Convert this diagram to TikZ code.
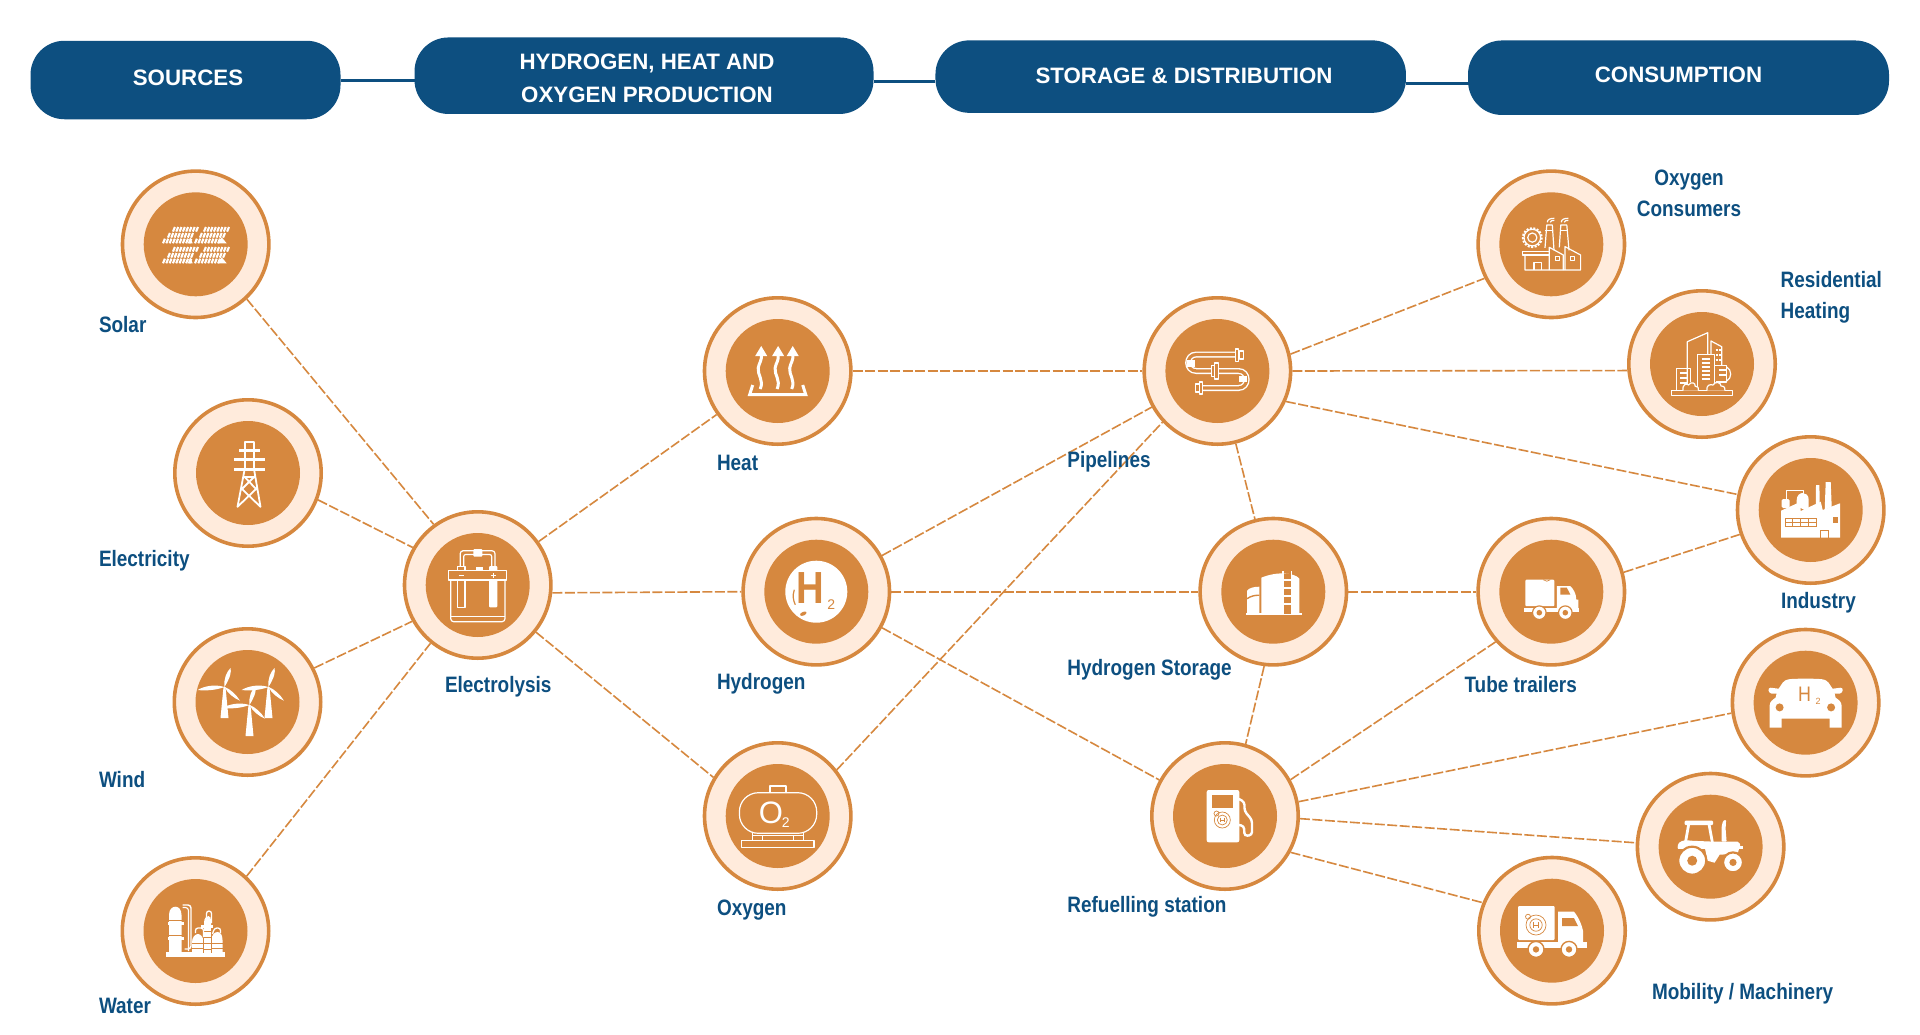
\documentclass[tikz,border=0pt]{standalone}
\usepackage{fontspec}
\setmainfont{Liberation Sans}
\newfontfamily\condfont[FakeStretch=0.85]{Liberation Sans}
\newfontfamily\pillfont[FakeStretch=1.0]{Liberation Sans}
\definecolor{hubor}{HTML}{D6883F}
\definecolor{hubring}{HTML}{FFEBDC}
\definecolor{navyc}{HTML}{0D4F80}
\tikzset{
  ringnode/.style={circle,draw=hubor,fill=hubring,line width=3.6pt,minimum size=146.4pt,inner sep=0pt,outer sep=1.8pt},
  corenode/.style={circle,fill=hubor,minimum size=104pt,inner sep=0pt,outer sep=0pt},
  pillbox/.style={fill=navyc,rounded corners=34pt,inner sep=0pt,outer sep=0pt},
  pilltext/.style={text=white,font=\pillfont\bfseries\fontsize{22.3}{33}\selectfont,align=center,inner sep=0pt,outer sep=0pt},
  pilllink/.style={draw=navyc,line width=3pt},
  linkline/.style={draw=hubor,line width=1.6pt,dash pattern=on 10pt off 2.5pt},
  lbl/.style={text=navyc,font=\condfont\bfseries\fontsize{22.3}{31.5}\selectfont,inner sep=0pt,outer sep=0pt},
  wf/.style={fill=white,draw=none},
  of/.style={fill=hubor,draw=none},
  wl/.style={draw=white,line width=1.2pt,fill=none,line join=round},
  wlt/.style={draw=white,line width=3pt,fill=none,line cap=round,line join=round},
  ol/.style={draw=hubor,line width=1.1pt,fill=none},
  icontext/.style={inner sep=0pt,outer sep=0pt,font=\fontsize{#1}{#1}\selectfont},
}
\newcommand{\hubnode}[2]{\node[ringnode] (#1) at (#2) {};\node[corenode] (#1core) at (#2) {};}
\newcommand{\turbicon}[2]{\begin{scope}[shift={(#1,#2)}]
 \fill[wf] (-1,0)--(1,0)--(4,31)--(-4,31)--cycle;
 \fill[wf] (0,0) .. controls (6,-10) and (7,-15) .. (6,-19) .. controls (2,-15) and (-1,-8) .. (0,0);
 \fill[wf] (0,0) .. controls (-10,-3) and (-20,-1) .. (-27,3) .. controls (-18,4) and (-8,3) .. (0,0);
 \fill[wf] (0,0) .. controls (6,2) and (12,8) .. (15.5,13.7) .. controls (9,11) and (3,6) .. (0,0);
 \end{scope}}
\newcommand{\hcircle}[3]{\draw[ol,line width=0.7pt] (#1,#2) circle[radius=#3];\draw[ol,line width=0.7pt] (#1,#2) circle[radius=#3*0.62];
 \draw[ol,line width=0.8pt] (#1-#3*0.25,#2-#3*0.3)--(#1-#3*0.25,#2+#3*0.3) (#1+#3*0.25,#2-#3*0.3)--(#1+#3*0.25,#2+#3*0.3) (#1-#3*0.25,#2)--(#1+#3*0.25,#2);}
\begin{document}
\begin{tikzpicture}[x=1pt,y=-1pt]
\useasboundingbox (0,0) rectangle (1920,1034);
\fill[white] (0,0) rectangle (1920,1034);
% header pills
\node[pillbox,minimum width=310pt,minimum height=78.5pt] (psrc) at (185.5,80) {};
\node[pillbox,minimum width=459pt,minimum height=76.5pt] (pprod) at (644,75.7) {};
\node[pillbox,minimum width=470.5pt,minimum height=72.5pt] (pstore) at (1170.7,76.6) {};
\node[pillbox,minimum width=421pt,minimum height=74.5pt] (pcons) at (1678.5,77.7) {};
\node[pilltext] (tsrc) at (188,77.7) {SOURCES};
\node[pilltext] (tprod) at (647,78.5) {HYDROGEN, HEAT AND\\OXYGEN PRODUCTION};
\node[pilltext] (tstore) at (1184,75.4) {STORAGE \& DISTRIBUTION};
\node[pilltext] (tcons) at (1678.5,75.2) {CONSUMPTION};
\draw[pilllink] (psrc.east |- 0,80.3) -- (pprod.west |- 0,80.3);
\draw[pilllink] (pprod.east |- 0,81.7) -- (pstore.west |- 0,81.7);
\draw[pilllink] (pstore.east |- 0,83) -- (pcons.west |- 0,83);
% hubs
\hubnode{solar}{195.7,244.3}
\hubnode{elec}{248,473}
\hubnode{wind}{247.5,702}
\hubnode{water}{195.5,931}
\hubnode{lysis}{477.7,585}
\hubnode{heat}{777.7,371}
\hubnode{hyd}{816.3,591.7}
\hubnode{oxy}{777.7,816}
\hubnode{pipe}{1217.4,371}
\hubnode{stor}{1273.3,591.7}
\hubnode{fuel}{1225,816}
\hubnode{tube}{1551.3,591.7}
\hubnode{ocons}{1551.3,244.3}
\hubnode{resi}{1702,364}
\hubnode{indu}{1810.7,510}
\hubnode{car}{1805.6,702.7}
\hubnode{trac}{1710.6,846.7}
\hubnode{truck}{1552,930.7}
% connectors
\draw[linkline] (solar.-47.5) -- (lysis.126.6);
\draw[linkline] (elec.-21) -- (lysis.150.7);
\draw[linkline] (wind.27.7) -- (lysis.209);
\draw[linkline] (water.47.7) -- (lysis.231);
\draw[linkline] (lysis) -- (heat);
\draw[linkline] (lysis.-6) -- (hyd.west);
\draw[linkline] (lysis.-39) -- (oxy.149);
\draw[linkline] (heat) -- (pipe);
\draw[linkline] (hyd) -- (pipe);
\draw[linkline] (oxy.38.4) -- (pipe.223.7);
\draw[linkline] (hyd) -- (stor);
\draw[linkline] (hyd) -- (fuel);
\draw[linkline] (pipe) -- (stor);
\draw[linkline] (stor.-97.5) -- (fuel.74.8);
\draw[linkline] (stor) -- (tube);
\draw[linkline] (pipe.13.9) -- (ocons.207.3);
\draw[linkline] (pipe.east) -- (resi.185.4);
\draw[linkline] (pipe.-24) -- (indu.168);
\draw[linkline] (tube.15.2) -- (indu.199.5);
\draw[linkline] (fuel.29.5) -- (tube.222);
\draw[linkline] (fuel.11.3) -- (car.188.6);
\draw[linkline] (fuel.-2.3) -- (trac.177.2);
\draw[linkline] (fuel.-29.7) -- (truck.158.7);
% labels
\node[lbl,anchor=base west] (lsolar) at (99,332.5) {Solar};
\node[lbl,anchor=base west] (lelec) at (99,566) {Electricity};
\node[lbl,anchor=base west] (lwind) at (99,787) {Wind};
\node[lbl,anchor=base west] (lwater) at (99,1013.7) {Water};
\node[lbl,anchor=base west] (llysis) at (445,692.7) {Electrolysis};
\node[lbl,anchor=base west] (lheat) at (717,470) {Heat};
\node[lbl,anchor=base west] (lhyd) at (717,689) {Hydrogen};
\node[lbl,anchor=base west] (loxy) at (717,915) {Oxygen};
\node[lbl,anchor=base west] (lpipe) at (1067.4,467) {Pipelines};
\node[lbl,anchor=base west] (lstor) at (1067.4,675) {Hydrogen Storage};
\node[lbl,anchor=base west] (lfuel) at (1067.4,912.7) {Refuelling station};
\node[lbl,anchor=base west] (ltube) at (1464.5,692) {Tube trailers};
\node[lbl,align=center,anchor=center] (locons) at (1689,193.3) {Oxygen\\Consumers};
\node[lbl,align=left,anchor=west] (lresi) at (1780.7,297.5) {Residential\\Heating};
\node[lbl,anchor=base west] (lindu) at (1781,608.6) {Industry};
\node[lbl,anchor=base west] (lmob) at (1652,999) {Mobility / Machinery};
% ---------- icons ----------
% solar
\begin{scope}[shift={(solar.center)}]
 \foreach \yy in {0,20}{
  \foreach \xa/\ya/\nn in {-26/-15/8,-31/-9/8,-36/-3.3/9,5/-15/8,1/-9/8,-4/-3.3/8}{
   \foreach \k in {1,...,\nn}{
    \draw[white,line width=2.1pt] ({\xa+\k*3.3},{\ya+\yy+2.3}) -- ({\xa+\k*3.3+1.9},{\ya+\yy-2.3});
   }
  }
  \fill[wf] (-8,{\yy-1}) -- (-3,{\yy-1}) -- (-5.5,{\yy-7}) -- cycle;
  \fill[wf] (22,{\yy-1}) -- (31,{\yy-1}) -- (26,{\yy-7}) -- cycle;
 }
\end{scope}
% electricity
\begin{scope}[shift={(elec.center)}]
 \draw[wl,line width=1.8pt] (-3.3,-31) rectangle (6,-4);
 \draw[white,line width=2.6pt] (-9,-22.7)--(12,-22.7) (-14,-13.6)--(17,-13.6) (-14,-3.8)--(17,-3.8);
 \draw[wl,line width=1.8pt] (-3.3,-4) -- (-10.5,33.8) -- (8,16) -- (-3.3,4) -- (6,4) -- (-6,16) -- (12.5,33.8) -- (6,-4);
\end{scope}
% wind
\begin{scope}[shift={(wind.center)}]
 \turbicon{-23}{-15}
 \turbicon{21}{-15}
 \turbicon{2}{3}
\end{scope}
% water plant
\begin{scope}[shift={(water.center)}]
 \fill[wf] (-29.5,21.3) rectangle (29.5,26.3);
 \fill[wf] (-26.5,22) -- (-26.5,-16) .. controls (-26.5,-22) and (-23,-24.3) .. (-20.2,-24.3) .. controls (-17,-24.3) and (-14,-22) .. (-14,-16) -- (-14,22) -- cycle;
 \fill[wf] (-28,-9.5) rectangle (-12,-6);
 \fill[wf] (-28,5.5) rectangle (-12,9);
 \fill[of] (-28,-11) rectangle (-12,-9.8);
 \fill[of] (-28,3.8) rectangle (-12,5);
 \draw[white,line width=1.4pt,rounded corners=3pt] (-13,-26) -- (-4.5,-26) -- (-4.5,18) -- (-11,18);
 \draw[white,line width=1.1pt,rounded corners=3pt] (-13,-23.5) -- (-7,-23.5) -- (-7,20);
 \fill[wf] (-3.5,22) -- (-3.5,11) .. controls (-3.5,6) and (0,3) .. (2.5,3) .. controls (5,3) and (8,6) .. (8,11) -- (8,22) -- cycle;
 \fill[wf] (16,22) -- (16,9) .. controls (16,4) and (19,1) .. (22,1) .. controls (25,1) and (27,4) .. (27,9) -- (27,22) -- cycle;
 \fill[wf] (8.5,22) -- (8.5,-8) .. controls (8.5,-13) and (11,-15) .. (13,-15) .. controls (15,-15) and (15.5,-13) .. (15.5,-8) -- (15.5,22) -- cycle;
 \fill[wf] (5,-6) rectangle (17,-3);
 \foreach \yy in {12,17}{\draw[ol,line width=0.8pt] (-3.5,\yy) -- (8,\yy) (16,\yy) -- (27,\yy);}
 \foreach \yy in {0,6,12,18}{\draw[ol,line width=0.8pt] (8.5,\yy) -- (15.5,\yy);}
 \draw[hubor,line width=0.9pt] (8,0) -- (8,22) (16,-3) -- (16,22);
 \draw[white,line width=1.3pt,rounded corners=2.5pt] (8,6) -- (8,-3) -- (0,-3) -- (0,2);
 \draw[white,line width=1.3pt,rounded corners=2.5pt] (25,2) -- (25,-3) -- (19,-3) -- (17,3);
 \draw[white,line width=1.3pt,rounded corners=2.5pt] (11,-13) -- (11,-20) -- (16,-20) -- (16,-8);
\end{scope}
% electrolysis battery
\begin{scope}[shift={(lysis.center)}]
 \draw[wl] (-29.3,-14.3) rectangle (29,-5);
 \draw[wl,rounded corners=3pt] (-27,-5) -- (-27,36.7) -- (27.3,36.7) -- (27.3,-5);
 \draw[wl] (-27,31.7) -- (27.3,31.7);
 \draw[wl] (-20,-5) rectangle (-12.7,22.3);
 \fill[wf,rounded corners=1pt] (11.3,-5) rectangle (19.7,22.3);
 \fill[wf,rounded corners=1pt] (11.3,-19) rectangle (19.7,-14.3);
 \draw[wl] (-20,-18.5) rectangle (-12.7,-14.3);
 \fill[wf] (-1.7,-18.5) rectangle (5,-14.3);
 \draw[wl,rounded corners=3pt] (-17.5,-18.5) -- (-17.5,-34.3) -- (17.3,-34.3) -- (17.3,-19);
 \draw[wl,rounded corners=2pt] (-14,-18.5) -- (-14,-30.5) -- (14,-30.5) -- (14,-19);
 \fill[wf,rounded corners=1pt] (-4.3,-36) rectangle (4.7,-28.3);
 \draw[white,line width=1pt] (-19,-9.5)--(-14,-9.5) (13,-9.5)--(18,-9.5) (15.5,-12)--(15.5,-7);
\end{scope}
% heat
\begin{scope}[shift={(heat.center)}]
 \foreach \xx in {-16.5,0.4,15}{
  \draw[wlt,line cap=butt] (\xx-1,18) .. controls (\xx+3,9) and (\xx-4,4) .. (\xx-3,-3) .. controls (\xx-2,-9) and (\xx+1,-10) .. (\xx,-17);
  \fill[wf] (\xx-6,-15) -- (\xx,-25) -- (\xx+6,-15) -- cycle;
 }
 \draw[wlt,line cap=butt,line join=miter] (-25,14) -- (-28,23.5) -- (28,23.5) -- (25,14);
\end{scope}
% hydrogen
\begin{scope}[shift={(hyd.center)}]
 \fill[wf] (0,0) circle[radius=31];
 \node[icontext=45,text=hubor,font=\condfont\bfseries\fontsize{45}{45}\selectfont] (hydH) at (-5.6,-3.3) {H};
 \node[icontext=14,text=hubor] (hydtwo) at (15,13.3) {2};
 \draw[hubor,line width=1.2pt] (-22,-2) .. controls (-24,4) and (-23,9) .. (-21,13);
 \fill[of,rotate around={25:(-13,22)}] (-13,22) ellipse[x radius=3.5,y radius=1.8];
\end{scope}
% oxygen tank
\begin{scope}[shift={(oxy.center)}]
 \draw[wl,rounded corners=19pt] (-38.3,-23.3) rectangle (39,17.3);
 \draw[wl] (-7.7,-23.3) rectangle (8.3,-30);
 \node[icontext=31,text=white] (oxyO) at (-6.7,-3.3) {O};
 \node[icontext=14,text=white] (oxytwo) at (8,6.5) {2};
 \draw[wl] (-25,17.3)--(-25,24.7) (-15,19.5)--(-15,24.7) (15.5,19.5)--(15.5,24.7) (25.5,17.3)--(25.5,24.7) (-25,19.5)--(25.5,19.5);
 \draw[wl] (-36,24.7) rectangle (36.3,31.3);
\end{scope}
% pipelines
\begin{scope}[shift={(pipe.center)}]
 \foreach \cw/\cc in {6/white,3.2/hubor}{
  \draw[line width=\cw pt,color=\cc] (22,-16.5) -- (-21,-16.5) .. controls (-32,-16.5) and (-32,0) .. (-21,0) -- (0,0);
  \draw[line width=\cw pt,color=\cc] (0,0) -- (21,0) .. controls (32,0) and (32,17) .. (21,17) -- (-18,17);
 }
 \fill[wf] (-30,-11) rectangle (-22,-4);
 \fill[wf] (22,5) rectangle (30,11);
 \draw[wl,fill=hubor] (18,-22) rectangle (21,-9.5);
 \draw[wl,fill=hubor] (22,-20) rectangle (26,-12);
 \draw[wl,fill=hubor] (-3,-8) rectangle (1,8);
 \draw[wl,fill=hubor] (-6,-5.5) rectangle (-3,5.5);
 \draw[wl,fill=hubor] (-18,11) rectangle (-15,23);
 \draw[wl,fill=hubor] (-22,13) rectangle (-18,21);
\end{scope}
% storage
\begin{scope}[shift={(stor.center)}]
 \fill[wf] (-27,21.3) rectangle (28.7,23.5);
 \fill[wf] (-12,22) -- (-12,-14) .. controls (-5,-17) and (5,-19) .. (12,-18) .. controls (18,-18) and (24,-16) .. (26,-13) -- (26,22) -- cycle;
 \fill[wf] (-26.3,22) -- (-26.3,-1) .. controls (-24,-4) and (-19,-5) .. (-14,-5) -- (-14,22) -- cycle;
 \draw[hubor,line width=1.4pt] (-26.3,7) .. controls (-22,4) and (-18,3.5) .. (-14,3.5);
 \fill[of] (9,-18) rectangle (18,22);
 \fill[wf] (9,-21) rectangle (10.5,22);
 \fill[wf] (17.5,-21) rectangle (19,22);
 \foreach \yy in {-13,-5,3,11}{\fill[wf] (9,\yy) rectangle (18,\yy+2);}
\end{scope}
% refuelling
\begin{scope}[shift={(fuel.center)}]
 \fill[wf,rounded corners=2pt] (-18.3,-26) rectangle (14.3,26.3);
 \fill[of] (-12.7,-21) rectangle (8.3,-8.3);
 \hcircle{-2.7}{4}{8}
 \draw[ol,line width=0.7pt] (-8.5,-2.5) circle[radius=2.5];
 \draw[white,line width=2.4pt,rounded corners=3pt,line cap=round] (14,-17) -- (19.5,-14) -- (19.5,-5) -- (27,4) -- (27,19) -- (19.5,20) -- (19,10) -- (14,9);
\end{scope}
% tube trailer
\begin{scope}[shift={(tube.center)}]
 \fill[wf,rounded corners=1pt] (-26,-12) rectangle (3,14.5);
 \draw[hubor,line width=0.7pt] (-8,-12) .. controls (-6,-10) and (-3,-10) .. (-1,-12);
 \fill[wf] (5.5,-5.5) -- (19,-5.5) .. controls (22,-3) and (25,2) .. (25,8) -- (27,8) -- (27,17) -- (5.5,17) -- cycle;
 \fill[of] (9,-4) -- (15.5,-4) -- (19,2.8) -- (9,2.8) -- cycle;
 \fill[wf] (-27.7,16) rectangle (28,20);
 \foreach \xx in {-12,14}{
  \fill[wf,draw=hubor,line width=1.2pt] (\xx,21) circle[radius=6.8];
  \fill[of] (\xx,21) circle[radius=2.8];
 }
\end{scope}
% oxygen consumers factory
\begin{scope}[shift={(ocons.center)}]
 \draw[wl] (-26.3,10.7) -- (-26.3,25.7) -- (29.3,25.7) -- (29.3,10.7) -- (13.7,2.3) -- (13.7,25.7);
 \draw[wl] (12,25.7) -- (12,10.7) -- (-2,3) -- (-2,25.7);
 \draw[wl] (-29,7.3) rectangle (-2,10.7);
 \draw[wl] (-17.3,25.7) -- (-17.3,18.3) -- (-9.7,18.3) -- (-9.7,25.7);
 \draw[wl] (4,12) rectangle (8,16) (19,12) rectangle (23,16);
 \draw[wl] (-6.3,3.5) -- (-4.5,-19.3) -- (1,-19.3) -- (2.7,6);
 \draw[wl] (8,3) -- (9.5,-19.3) -- (15.5,-19.3) -- (17.7,6);
 \draw[wl] (-6,-14) -- (2,-14) (8.5,-14) -- (16.5,-14);
 \draw[wl] (-4,-22) .. controls (-4,-25) and (-1,-26) .. (3,-26);
 \draw[wl] (-1,-22) .. controls (-1,-23.5) and (1,-24) .. (3,-24);
 \draw[wl] (10,-22) .. controls (10,-25) and (13,-26) .. (17,-26);
 \draw[wl] (13,-22) .. controls (13,-23.5) and (15,-24) .. (17,-24);
 \draw[wl,dash pattern=on 2pt off 1.5pt,line width=2pt] (-19,-6.7) circle[radius=9.5];
 \draw[wl] (-19,-6.7) circle[radius=8.3];
 \draw[wl] (-19,-6.7) circle[radius=4.6];
\end{scope}
% residential
\begin{scope}[shift={(resi.center)}]
 \draw[wl] (-30.7,26.7) rectangle (30.7,31.7);
 \draw[wl] (-14.7,20) -- (-14.7,-22.3) -- (5.7,-31.3) -- (5.7,-10);
 \draw[wl] (-4.3,26) -- (-4.3,-9.7) -- (12.3,-9.7) -- (12.3,26);
 \draw[wl] (9,-9.7) -- (9,-23) -- (19.7,-17.3) -- (19.7,1);
 \draw[wl] (12.3,1.7) -- (24.7,1.7) -- (24.7,18) -- (14,18);
 \draw[wl] (-25.3,26) -- (-25.3,4.3) -- (-11.3,4.3) -- (-11.3,18);
 \foreach \yy in {-5,-1,3,7,11,15}{\draw[wl] (-0.3,\yy) -- (8,\yy);}
 \foreach \yy in {9,14,19}{\draw[wl] (-22,\yy) -- (-14.7,\yy);}
 \foreach \yy in {-14,-9,-4}{\draw[wl,line width=1.6pt,dash pattern=on 2pt off 1.4pt] (13.5,\yy) -- (18.5,\yy);}
 \draw[wl] (17,6) -- (24,6) (17,11) -- (24,11);
 \draw[wl] (24.7,3) .. controls (30,6) and (30,14) .. (24.7,17);
 \draw[wl,fill=hubor] (-19,26.7) .. controls (-20,20) and (-15,19) .. (-13.5,21) .. controls (-11,17) and (-6,19) .. (-7,22) .. controls (-4,22) and (-3,24) .. (-3.5,26.7);
 \draw[wl,fill=hubor] (5,26.7) .. controls (4,21) and (8,20) .. (11,21) .. controls (13,17) and (19,18) .. (19,22) .. controls (22,22) and (24,24) .. (23,26.7);
\end{scope}
% industry
\begin{scope}[shift={(indu.center)}]
 \fill[wf] (-29.7,27.7) -- (-29.7,0.7) -- (-10,-8.3) -- (-10,1) -- (10,-8.3) -- (12,-0) -- (29.3,-6.7) -- (29.3,27.7) -- cycle;
 \fill[wf] (5.3,-25) -- (8.7,-25) -- (9,-3) -- (5,-1) -- cycle;
 \fill[wf] (15,-28) -- (20,-28) -- (21,-3) -- (14,-0.5) -- cycle;
 \draw[wl,line width=1pt] (-24.7,-8) -- (-24.7,-20) -- (-7,-20) -- (-7,-10);
 \fill[wf] (-14,-3.5) -- (-14,-10) .. controls (-14,-15) and (-10.5,-17) .. (-8,-17) .. controls (-5,-17) and (-2,-15) .. (-2,-10) -- (-2,1) -- (-4,1) -- (-10,-2) -- cycle;
 \fill[wf,rounded corners=1.5pt] (-29,-2) rectangle (-21,-11);
 \draw[hubor,line width=1pt] (-25.7,8.3) rectangle (6,16.7);
 \draw[hubor,line width=1pt] (-18,8.3)--(-18,16.7) (-10,8.3)--(-10,16.7) (-2,8.3)--(-2,16.7) (-25.7,12.5)--(6,12.5);
 \fill[of] (22,7.3) rectangle (27.7,12.7);
 \draw[hubor,line width=1pt] (10,27.7) -- (10,20) -- (17.7,20) -- (17.7,27.7);
\end{scope}
% car
\begin{scope}[shift={(car.center)}]
 \fill[wf] (-36,25) -- (-36,3) .. controls (-36,-1) and (-33,-3) .. (-30,-5) -- (-29,-9) -- (-34,-9) .. controls (-38,-10) and (-38,-15) .. (-35,-15) -- (-27,-14) -- (-23,-20) .. controls (-20,-24) and (-15,-24) .. (0,-24) .. controls (15,-24) and (20,-24) .. (23,-20) -- (27,-14) -- (35,-15) .. controls (38,-15) and (38,-10) .. (34,-9) -- (29,-9) -- (30,-5) .. controls (33,-3) and (36,-1) .. (36,3) -- (36,25) -- (24,25) -- (24,16) -- (-24,16) -- (-24,25) -- cycle;
 \fill[of] (-26,4.7) circle[radius=4];
 \fill[of] (25.5,4.7) circle[radius=4];
 \node[icontext=21,text=hubor,font=\condfont\fontsize{21}{21}\selectfont] (carH) at (-1,-8.7) {H};
 \node[icontext=9,text=hubor] (cartwo) at (12.5,-1.7) {2};
\end{scope}
% tractor
\begin{scope}[shift={(trac.center)}]
 \fill[wf,rounded corners=1pt] (-26,-26) rectangle (2.5,-21.7);
 \draw[white,line width=2.8pt] (-22,-22) -- (-25,-5) (-1.5,-22) -- (2,-3);
 \fill[wf,rounded corners=1pt] (11,-5) -- (11,-20) -- (12.5,-26) -- (15.5,-27) -- (15,-18) -- (16,-5) -- cycle;
 \fill[wf,rounded corners=2pt] (-33,0) .. controls (-32,-5) and (-27,-7) .. (-20,-6) -- (4,-5) -- (29,-5) -- (30,2) -- (-33,2) -- cycle;
 \fill[wf] (-33,-1) rectangle (32,2.5);
 \fill[wf] (-6,0) -- (29,0) -- (27,7) -- (9,8) -- (4,16) -- (-3,14) -- cycle;
 \foreach \xx/\yy/\rr/\ri in {-18.4/14/13/5,22.4/15.7/9/3.6}{
  \fill[wf,draw=hubor,line width=2.2pt] (\xx,\yy) circle[radius=\rr+1];
  \fill[of] (\xx,\yy) circle[radius=\ri];
 }
\end{scope}
% truck
\begin{scope}[shift={(truck.center)}]
 \fill[wf,rounded corners=1pt] (-34,-24.7) rectangle (2.5,9.3);
 \hcircle{-16}{-5.7}{10}
 \draw[ol,line width=0.7pt] (-24,-14) circle[radius=2.5];
 \fill[wf] (6,-19) -- (22,-19) .. controls (27,-13) and (30,-5) .. (31,0) -- (31,12) -- (6,12) -- cycle;
 \fill[of] (10,-12.5) -- (22,-12.5) -- (26,-4.5) -- (10,-4.5) -- cycle;
 \fill[wf] (-35,11.5) rectangle (35,17.7);
 \foreach \xx in {-16,17}{
  \fill[wf,draw=hubor,line width=1.4pt] (\xx,18.7) circle[radius=8];
  \fill[of] (\xx,18.7) circle[radius=3.2];
 }
\end{scope}
\end{tikzpicture}
\end{document}
